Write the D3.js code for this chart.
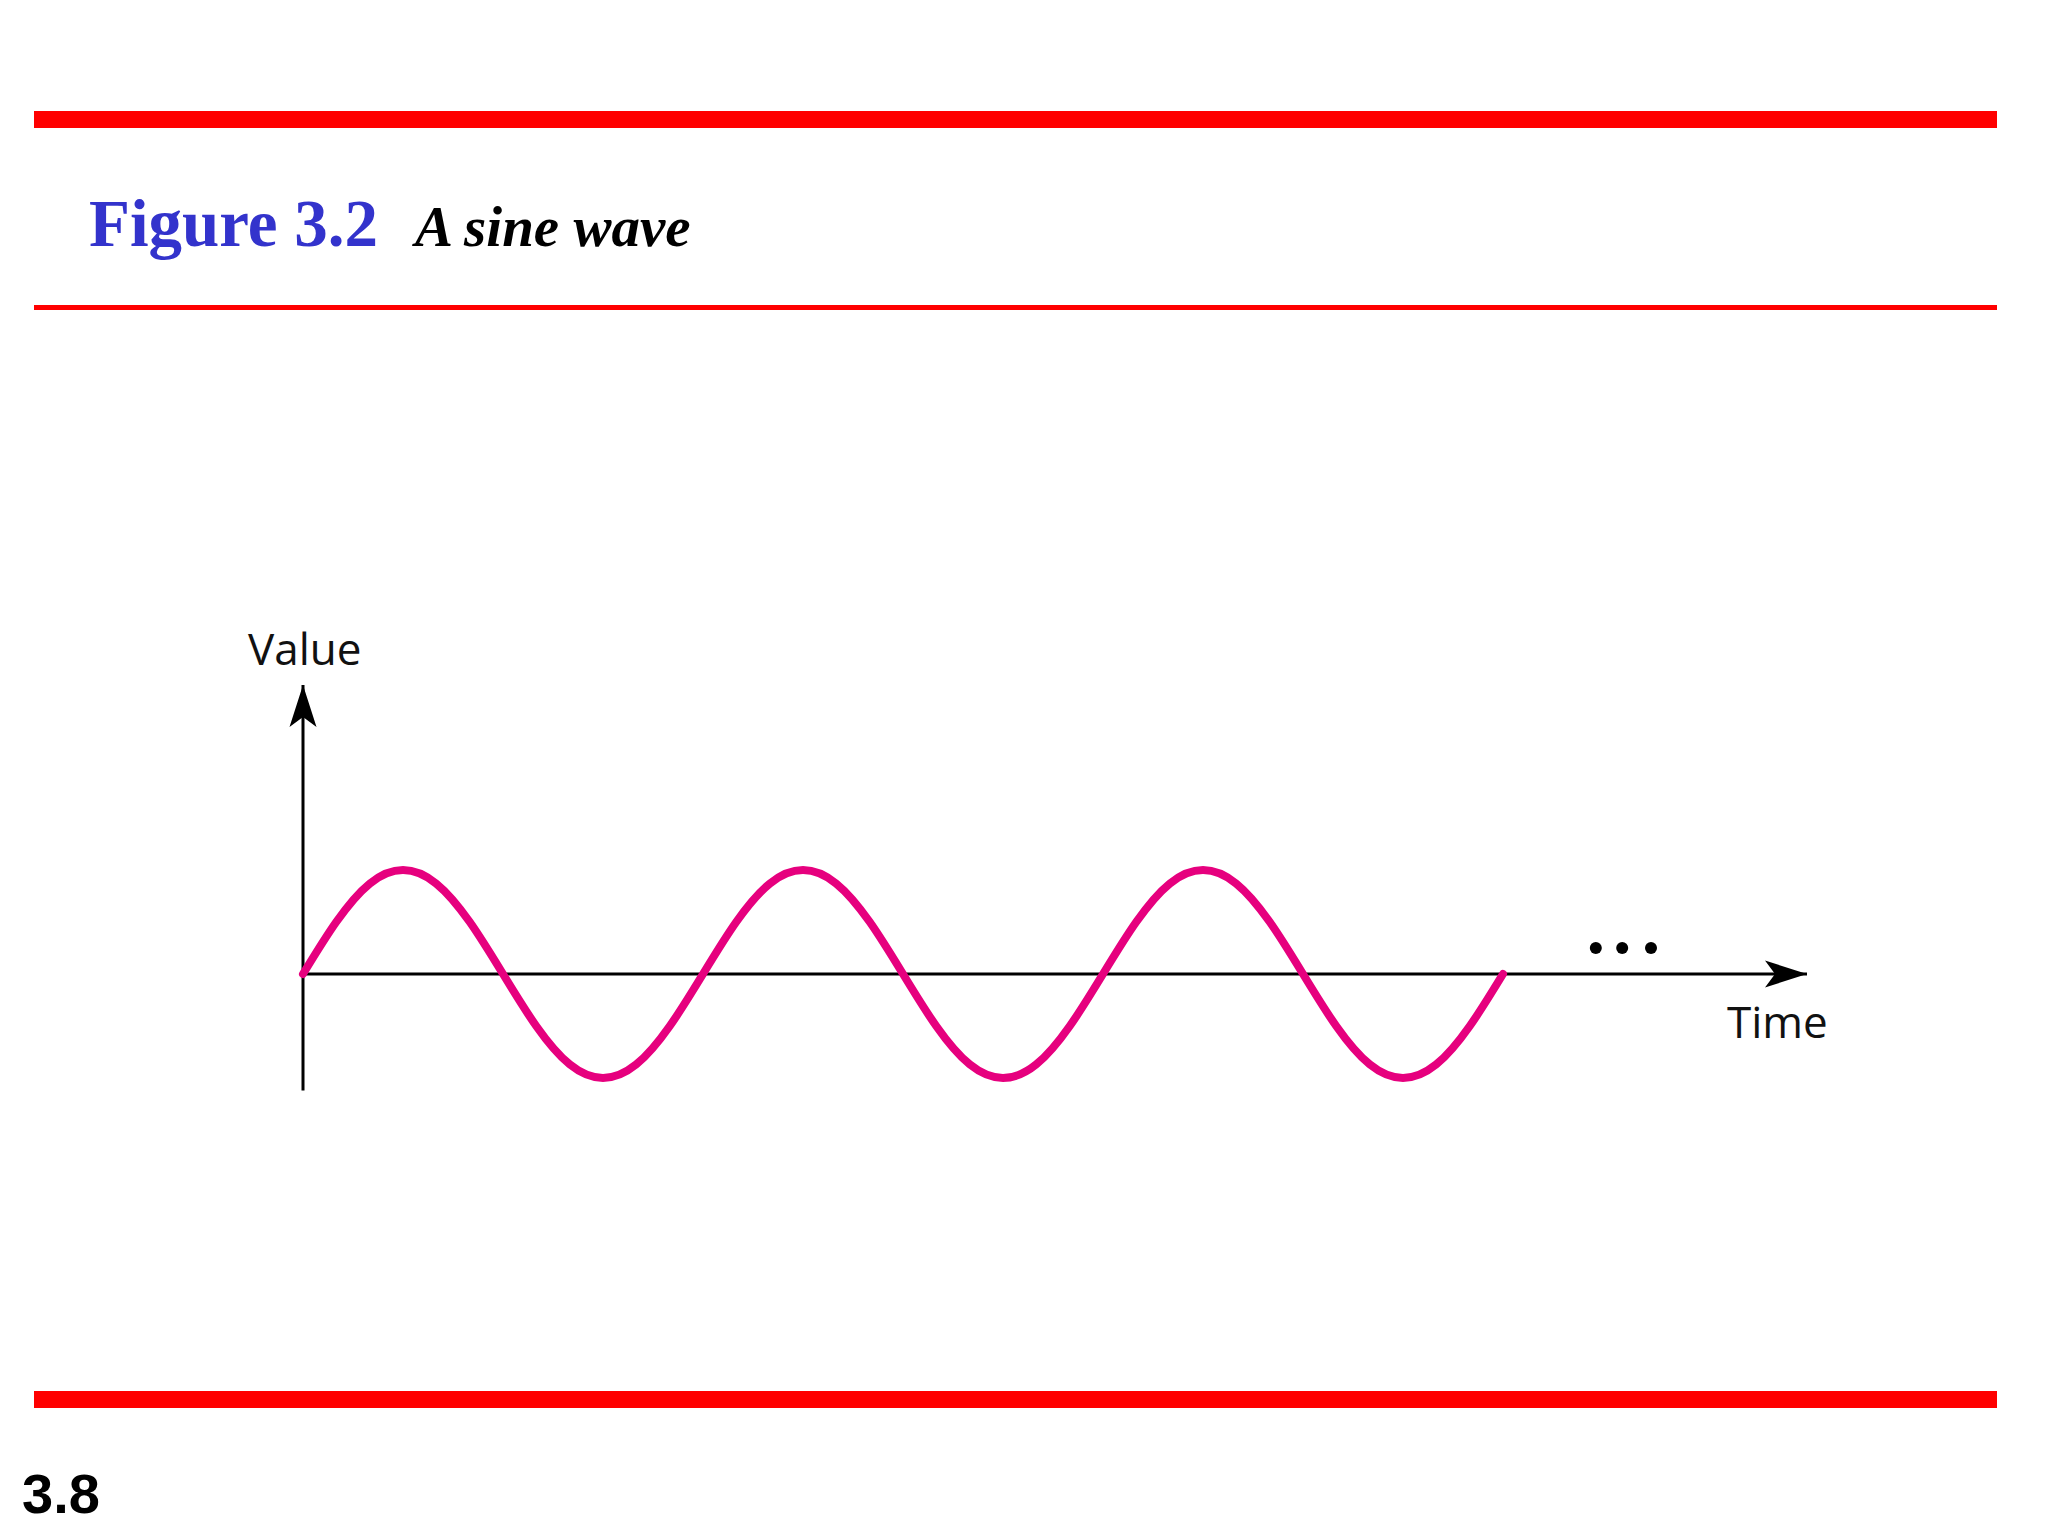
<!DOCTYPE html>
<html lang="en">
<head>
    <meta charset="UTF-8">
    <title>Figure 3.2 A sine wave</title>
    <script src="https://d3js.org/d3.v7.min.js"></script>
    <style>
        body { margin: 0; background: #fff; }
    </style>
</head>
<body>
    <div id="my_dataviz"></div>

    <script>
        // one sample every 1/12 of a period, three periods
        var times = [0, 0.083, 0.167, 0.25, 0.333, 0.417, 0.5, 0.583, 0.667, 0.75, 0.833, 0.917,
                     1, 1.083, 1.167, 1.25, 1.333, 1.417, 1.5, 1.583, 1.667, 1.75, 1.833, 1.917,
                     2, 2.083, 2.167, 2.25, 2.333, 2.417, 2.5, 2.583, 2.667, 2.75, 2.833, 2.917, 3];
        var values = [0, 0.5, 0.87, 1, 0.87, 0.5, 0, -0.5, -0.87, -1, -0.87, -0.5,
                      0, 0.5, 0.87, 1, 0.87, 0.5, 0, -0.5, -0.87, -1, -0.87, -0.5,
                      0, 0.5, 0.87, 1, 0.87, 0.5, 0, -0.5, -0.87, -1, -0.87, -0.5, 0];
        // how far the axes run, in the same units
        var timeAxisEnd = 3.76;
        var valueAxisRange = [-1.12, 2.78];
        // the "..." after the wave
        var dotTimes = [3.232, 3.298, 3.37];
        var dotValue = 0.25;

        var title = "Figure 3.2", subtitle = "A sine wave", pageNo = "3.8";
        var xLabel = "Time", yLabel = "Value";

        var width = 2048, height = 1536;

        var svg = d3.select("#my_dataviz")
            .append("svg")
            .attr("width", width)
            .attr("height", height);

        // red rules
        svg.append("rect").attr("x", 34).attr("y", 111).attr("width", 1963).attr("height", 17).attr("fill", "#ff0000");
        svg.append("rect").attr("x", 34).attr("y", 305).attr("width", 1963).attr("height", 5).attr("fill", "#ff0000");
        svg.append("rect").attr("x", 34).attr("y", 1391).attr("width", 1963).attr("height", 17).attr("fill", "#ff0000");

        // titles
        svg.append("text")
            .attr("x", 89).attr("y", 246)
            .style("font-family", "'Liberation Serif', 'Times New Roman', serif")
            .style("font-weight", "bold")
            .style("font-size", "67px")
            .attr("fill", "#3333cc")
            .text(title);
        svg.append("text")
            .attr("x", 415).attr("y", 246)
            .style("font-family", "'Liberation Serif', 'Times New Roman', serif")
            .style("font-weight", "bold")
            .style("font-style", "italic")
            .style("font-size", "57px")
            .attr("fill", "#000")
            .text(subtitle);
        svg.append("text")
            .attr("x", 22).attr("y", 1513)
            .style("font-family", "'Liberation Sans', Arial, sans-serif")
            .style("font-weight", "bold")
            .style("font-size", "56px")
            .attr("fill", "#000")
            .text(pageNo);

        // scales
        var x = d3.scaleLinear().domain([0, 3]).range([303, 1503]);
        var y = d3.scaleLinear().domain([-1, 1]).range([1078, 870]);

        // arrowhead with a notched back
        var defs = svg.append("defs");
        defs.append("marker")
            .attr("id", "arrow")
            .attr("viewBox", "-44 -15 46 30")
            .attr("refX", 0).attr("refY", 0)
            .attr("markerUnits", "userSpaceOnUse")
            .attr("markerWidth", 46).attr("markerHeight", 30)
            .attr("orient", "auto")
            .append("path")
            .attr("d", "M0,0 L-42,-13.5 L-32,0 L-42,13.5 Z")
            .attr("fill", "#000");

        // axes
        svg.append("line")
            .attr("x1", x(0)).attr("y1", y(valueAxisRange[0]))
            .attr("x2", x(0)).attr("y2", y(valueAxisRange[1]))
            .attr("stroke", "#000").attr("stroke-width", 3)
            .attr("marker-end", "url(#arrow)");
        svg.append("line")
            .attr("x1", x(0)).attr("y1", y(0))
            .attr("x2", x(timeAxisEnd)).attr("y2", y(0))
            .attr("stroke", "#000").attr("stroke-width", 3)
            .attr("marker-end", "url(#arrow)");

        // axis labels
        svg.append("text")
            .attr("x", 248).attr("y", 665)
            .style("font-family", "'Open Sans', sans-serif")
            .style("font-size", "44px")
            .attr("fill", "#111")
            .text(yLabel);
        svg.append("text")
            .attr("x", 1727).attr("y", 1038)
            .style("font-family", "'Open Sans', sans-serif")
            .style("font-size", "44px")
            .attr("fill", "#111")
            .text(xLabel);

        // the wave
        var data = times.map(function(t, i) { return {t: t, v: values[i]}; });
        var line = d3.line()
            .x(function(d) { return x(d.t); })
            .y(function(d) { return y(d.v); })
            .curve(d3.curveNatural);
        svg.append("path")
            .datum(data)
            .attr("d", line)
            .attr("fill", "none")
            .attr("stroke", "#e6007e")
            .attr("stroke-width", 8)
            .attr("stroke-linecap", "round");

        // dots
        svg.selectAll("circle.dot")
            .data(dotTimes)
            .enter()
            .append("circle")
            .attr("class", "dot")
            .attr("cx", function(d) { return x(d); })
            .attr("cy", y(dotValue))
            .attr("r", 6)
            .attr("fill", "#000");
    </script>
</body>
</html>
